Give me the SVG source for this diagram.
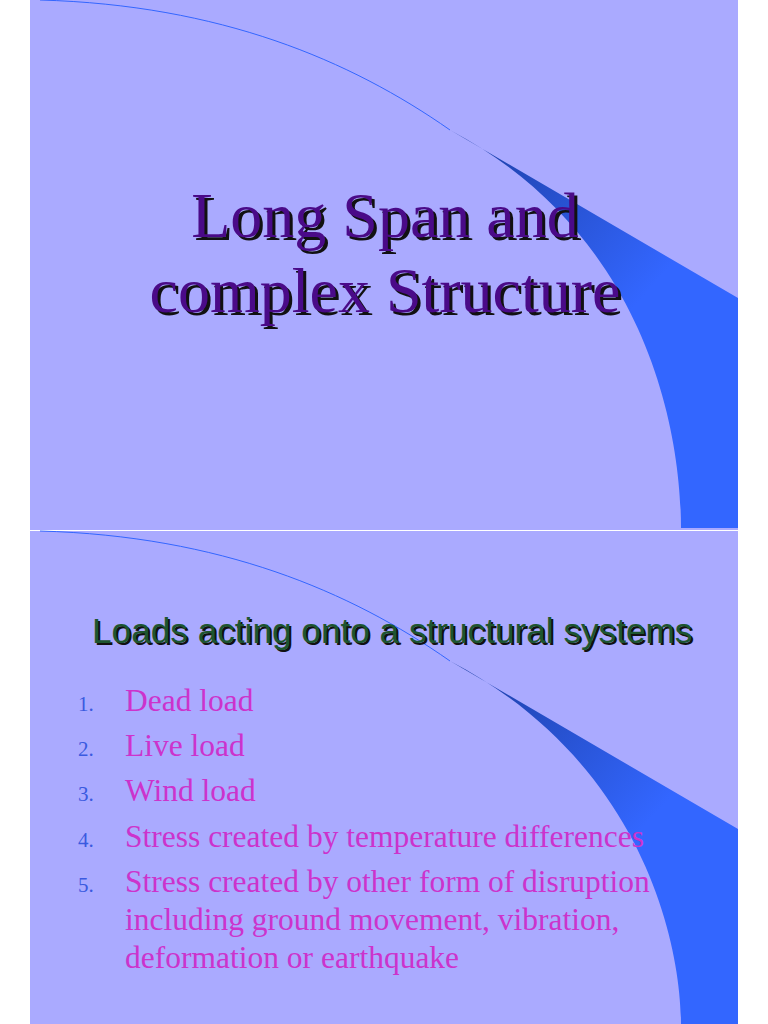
<svg xmlns="http://www.w3.org/2000/svg" width="768" height="1024" viewBox="0 0 768 1024">
<defs>
<linearGradient id="bl" gradientUnits="userSpaceOnUse" x1="440" y1="120" x2="640" y2="300">
<stop offset="0" stop-color="#1a3a9a"/><stop offset="1" stop-color="#3366ff"/>
</linearGradient>
<linearGradient id="bl2" gradientUnits="userSpaceOnUse" x1="440" y1="651" x2="640" y2="831">
<stop offset="0" stop-color="#1a3a9a"/><stop offset="1" stop-color="#3366ff"/>
</linearGradient>
<style>
.t{font-family:"Liberation Serif",serif;font-size:64px;fill:#4a0a88;text-anchor:middle}
.ts{font-family:"Liberation Serif",serif;font-size:64px;fill:#111;text-anchor:middle}
.h{font-family:"Liberation Sans",sans-serif;font-size:35.2px;fill:#1d5530}
.hs{font-family:"Liberation Sans",sans-serif;font-size:35.2px;fill:#111}
.n{font-family:"Liberation Serif",serif;font-size:21px;fill:#3a5ae0}
.i{font-family:"Liberation Serif",serif;font-size:31.5px;fill:#cc33cc}
</style>
</defs>
<rect width="768" height="1024" fill="#fff"/>
<g id="slide1">
<rect x="30" y="0" width="708" height="530" fill="#aaaaff"/>
<path d="M40,0 C220,5 350,60 450,130 L738,298 L738,528 L681,528 C681,420 640,230 450,130 C350,60 220,5 40,0 Z" fill="url(#bl)"/>
<path d="M40,0 C220,5 350,60 450,130" fill="none" stroke="#3366ff" stroke-width="1"/>
<text class="ts" x="388" y="240">Long Span and</text>
<text class="t" x="385" y="237">Long Span and</text>
<text class="ts" x="388" y="315">complex Structure</text>
<text class="t" x="385" y="312">complex Structure</text>
</g>
<g id="slide2">
<rect x="30" y="531" width="708" height="493" fill="#aaaaff"/>
<path d="M40,531 C220,536 350,591 450,661 L738,829 L738,1024 L681,1024 C681,940 640,760 450,661 C350,591 220,536 40,531 Z" fill="url(#bl2)"/>
<path d="M40,531 C220,536 350,591 450,661" fill="none" stroke="#3366ff" stroke-width="1"/>
<text class="hs" x="94" y="645">Loads acting onto a structural systems</text>
<text class="h" x="92" y="643">Loads acting onto a structural systems</text>
<text class="n" x="78" y="711">1.</text><text class="i" x="125" y="711">Dead load</text>
<text class="n" x="78" y="756">2.</text><text class="i" x="125" y="756">Live load</text>
<text class="n" x="78" y="801">3.</text><text class="i" x="125" y="801">Wind load</text>
<text class="n" x="78" y="847">4.</text><text class="i" x="125" y="847">Stress created by temperature differences</text>
<text class="n" x="78" y="892">5.</text><text class="i" x="125" y="892">Stress created by other form of disruption</text>
<text class="i" x="125" y="930">including ground movement, vibration,</text>
<text class="i" x="125" y="968">deformation or earthquake</text>
</g>
</svg>
